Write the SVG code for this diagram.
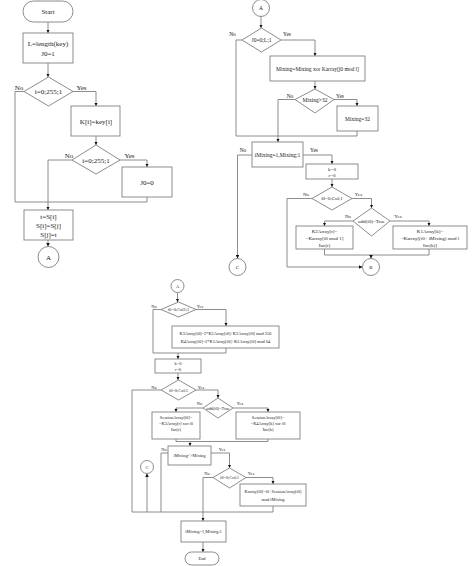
<svg xmlns="http://www.w3.org/2000/svg" width="474" height="566" viewBox="0 0 474 566">
<defs>
<marker id="ah" viewBox="0 0 6 6" refX="6" refY="3" markerWidth="3.5" markerHeight="3.5" markerUnits="userSpaceOnUse" orient="auto"><path d="M0,0 L6,3 L0,6 z" fill="#111"/></marker>
<style>
.s{fill:#fff;stroke:#808080;stroke-width:0.9}
.c{fill:none;stroke:#808080;stroke-width:0.9}
.ca{fill:none;stroke:#808080;stroke-width:0.9;marker-end:url(#ah)}
text{font-family:"Liberation Serif","Times New Roman",serif;fill:#222;text-anchor:middle}
.t7{font-size:7px}
.t55{font-size:5.5px}
.t5{font-size:5px}
.t45{font-size:4.4px}
</style>
</defs>
<rect width="474" height="566" fill="#fff"/>

<g id="connectors">
<!-- top-left -->
<path class="ca" d="M48,22 V33"/>
<path class="ca" d="M48,63 V77"/>
<path class="c" d="M147,197 V202 H15 V91.5 H24"/>
<path class="ca" d="M73,91.5 H96 V106"/>
<path class="ca" d="M96,136 V145"/>
<path class="ca" d="M72,160 H48 V210"/>
<path class="ca" d="M120,160 H147 V167"/>
<path class="ca" d="M48,240 V246.5"/>
<!-- top-right -->
<path class="ca" d="M261,16.5 V28"/>
<path class="ca" d="M281,40 H315 V56"/>
<path class="c" d="M357,131 V136 H236 V40 H242"/>
<path class="ca" d="M315,81 V89"/>
<path class="ca" d="M295,99.5 H278 V142"/>
<path class="ca" d="M334,99.5 H357 V106"/>
<path class="ca" d="M252,155 H237.5 V258.5"/>
<path class="ca" d="M303,155 H332 V164"/>
<path class="ca" d="M332,179 V187"/>
<path class="ca" d="M312,198.5 H287 V267 H362.5"/>
<path class="ca" d="M352,198.5 H371.5 V208"/>
<path class="ca" d="M353,221 H324.5 V226"/>
<path class="ca" d="M390,221 H429 V226"/>
<path class="c" d="M324.5,249 V255 H429 V249"/>
<path class="ca" d="M371,255 V258.5"/>
<!-- bottom -->
<path class="ca" d="M177.5,292.5 V302"/>
<path class="c" d="M226,348 V353 H153 V309.5 H161"/>
<path class="ca" d="M196,309.5 H226 V326"/>
<path class="ca" d="M178,353 V359"/>
<path class="ca" d="M178,373 V380"/>
<path class="c" d="M161,390 H132 V512 H273 V506"/>
<path class="ca" d="M196,390 H218 V398"/>
<path class="ca" d="M203,408 H176 V412"/>
<path class="ca" d="M233,408 H268 V412"/>
<path class="c" d="M176,439 V441.5 H268 V439"/>
<path class="ca" d="M190,441.5 V446"/>
<path class="c" d="M168,453 H161 V512"/>
<path class="ca" d="M211,453 H229.5 V468"/>
<path class="ca" d="M213,477.5 H203 V521"/>
<path class="ca" d="M246,477.5 H273 V484"/>
<path class="ca" d="M147,512 V473.5"/>
<path class="ca" d="M203,542 V552"/>
</g>

<g id="labels">
<text class="t7" x="19" y="89.5">No</text>
<text class="t7" x="81.5" y="89.5">Yes</text>
<text class="t7" x="69" y="158">No</text>
<text class="t7" x="129.5" y="158">Yes</text>
<text class="t55" x="232.5" y="36">No</text>
<text class="t55" x="287" y="36">Yes</text>
<text class="t55" x="290" y="98">No</text>
<text class="t55" x="340" y="98">Yes</text>
<text class="t55" x="243" y="152">No</text>
<text class="t55" x="314" y="152">Yes</text>
<text class="t5" x="306" y="196">No</text>
<text class="t5" x="358.5" y="196">Yes</text>
<text class="t5" x="348" y="218">No</text>
<text class="t5" x="398" y="218">Yes</text>
<text class="t45" x="154" y="308">No</text>
<text class="t45" x="200" y="308">Yes</text>
<text class="t45" x="154" y="389">No</text>
<text class="t45" x="201" y="389">Yes</text>
<text class="t45" x="199.5" y="405">No</text>
<text class="t45" x="240" y="405">Yes</text>
<text class="t45" x="164" y="451">No</text>
<text class="t45" x="222" y="451">Yes</text>
<text class="t45" x="207" y="475">No</text>
<text class="t45" x="251" y="475">Yes</text>
</g>

<!-- top-left flowchart -->
<g id="start"><rect class="s" x="23" y="1" width="50" height="21" rx="10.5"/><text class="t7" x="48" y="14">Start</text></g>
<g id="init"><rect class="s" x="23" y="33" width="50" height="30"/><text class="t7" x="48" y="46">L=length(key)</text><text class="t7" x="48" y="55.5">J0=1</text></g>
<g id="loop1"><polygon class="s" points="48.5,77 73,91.5 48.5,106 24,91.5"/><text class="t7" x="48.5" y="94">i=0;255;1</text></g>
<g id="kassign"><rect class="s" x="71" y="106" width="49" height="30"/><text class="t7" x="96" y="123.5">K[i]=key[i]</text></g>
<g id="loop2"><polygon class="s" points="96,145 120,160 96,174 72,160"/><text class="t7" x="96" y="162.5">i=0;255;1</text></g>
<g id="j0zero"><rect class="s" x="122" y="167" width="50" height="30"/><text class="t7" x="147" y="184.5">J0=0</text></g>
<g id="swap"><rect class="s" x="24" y="210" width="49" height="30"/><text class="t7" x="48.5" y="218.5">t=S[i]</text><text class="t7" x="48.5" y="227.5">S[i]=S[j]</text><text class="t7" x="48.5" y="236.5">S[j]=t</text></g>
<g id="connA1"><circle class="s" cx="48.5" cy="257" r="10.5"/><text class="t7" x="48.5" y="259.5">A</text></g>

<!-- top-right flowchart -->
<g id="connA2"><circle class="s" cx="261" cy="8" r="8.5"/><text class="t55" x="261" y="10">A</text></g>
<g id="loopJ0"><polygon class="s" points="261.5,28 281,40 261.5,52 242,40"/><text class="t55" x="261.5" y="42">J0=0;L;1</text></g>
<g id="mixxor"><rect class="s" x="270" y="56" width="95" height="25"/><text class="t55" x="317.5" y="70.5">Mixing=Mixing xor Karray[j0 mod l]</text></g>
<g id="mixgt"><polygon class="s" points="315,89 334,99.5 315,113 295,99.5"/><text class="t55" x="315" y="101.5">Mixing&gt;32</text></g>
<g id="mix32"><rect class="s" x="337" y="106" width="41" height="25"/><text class="t55" x="357.5" y="120.5">Mixing=32</text></g>
<g id="loopImix"><rect class="s" x="252" y="142" width="51" height="25"/><text class="t55" x="277.5" y="156.5">iMixing=1,Mixing;1</text></g>
<g id="kr0a"><rect class="s" x="306" y="164" width="52" height="15"/><text class="t5" x="332" y="170.5">k=0</text><text class="t5" x="332" y="177">r=0</text></g>
<g id="loopI0a"><polygon class="s" points="332,187 352,198.5 332,210 312,198.5"/><text class="t5" x="332" y="200.3">i0=0;Col;1</text></g>
<g id="odda"><polygon class="s" points="371.5,208 390,221 371.5,236 353,221"/><text class="t5" x="371.5" y="223">odd(i0)=True</text></g>
<g id="k2arr"><rect class="s" x="296" y="226" width="57" height="23"/><text class="t5" x="324.5" y="233">K2Array[r]=</text><text class="t5" x="324.5" y="240">=Karray[i0 mod 1]</text><text class="t5" x="324.5" y="247">Inc(r)</text></g>
<g id="k1arr"><rect class="s" x="393" y="226" width="74" height="23"/><text class="t5" x="430" y="233">K1Array[k]=</text><text class="t5" x="430" y="240">=Karray[(i0+ iMixing) mod l</text><text class="t5" x="430" y="247">Inc(k)]</text></g>
<g id="connB"><circle class="s" cx="371" cy="267" r="8.5"/><text class="t5" x="371" y="269">B</text></g>
<g id="connC1"><circle class="s" cx="237.5" cy="267" r="8.5"/><text class="t5" x="237.5" y="269">C</text></g>

<!-- bottom flowchart -->
<g id="connA3"><circle class="s" cx="177.5" cy="286" r="6.5"/><text class="t45" x="177.5" y="287.6">A</text></g>
<g id="loopCol2"><polygon class="s" points="178.5,302 196,309.5 178.5,317 161,309.5"/><text class="t45" x="178.5" y="311">i0=0;Col2;1</text></g>
<g id="k3k4"><rect class="s" x="172" y="326" width="107" height="22"/><text class="t45" x="225.5" y="335">K3Array[i0]=2*K1Array[i0]+K2Array[i0] mod 256</text><text class="t45" x="225.5" y="343">K4Array[i0]=2*K1Array[i0]+K2Array[i0] mod 64</text></g>
<g id="kr0b"><rect class="s" x="155" y="359" width="46" height="14"/><text class="t45" x="178" y="365">k=0</text><text class="t45" x="178" y="371.3">r=0</text></g>
<g id="loopI0b"><polygon class="s" points="178.5,380 196,390 178.5,400 161,390"/><text class="t45" x="178.5" y="391.5">i0=0;Col;1</text></g>
<g id="oddb"><polygon class="s" points="218,398 233,408 218,418 203,408"/><text class="t45" x="218" y="409.5">odd(i0)=True</text></g>
<g id="sessL"><rect class="s" x="152" y="412" width="48" height="27"/><text class="t45" x="176" y="419">SessionArray[i0]=</text><text class="t45" x="176" y="425">=K3Array[r] xor i0</text><text class="t45" x="176" y="431">Inc(r)</text></g>
<g id="sessR"><rect class="s" x="236" y="412" width="64" height="27"/><text class="t45" x="268" y="419">SessionArray[i0]=</text><text class="t45" x="268" y="425">=K4Array[k] xor i0</text><text class="t45" x="268" y="431">Inc(k)</text></g>
<g id="imixne"><rect class="s" x="168" y="446" width="43" height="19"/><text class="t45" x="189.5" y="457">iMixing&lt;&gt;Mixing</text></g>
<g id="connC2"><circle class="s" cx="147" cy="467" r="6.5"/><text class="t45" x="147" y="468.6">C</text></g>
<g id="loopI0c"><polygon class="s" points="229.5,468 246,477.5 229.5,488 213,477.5"/><text class="t45" x="229.5" y="479">i0=0;Col;1</text></g>
<g id="karrayset"><rect class="s" x="240" y="484" width="66" height="22"/><text class="t45" x="273" y="493">Karray[i0]=i0+SessionArray[i0]</text><text class="t45" x="273" y="500.5">mod iMixing</text></g>
<g id="loopImix2"><rect class="s" x="181" y="521" width="45" height="21"/><text class="t45" x="203.5" y="533">iMixing=1,Mixing;1</text></g>
<g id="end"><rect class="s" x="185" y="552" width="34" height="13" rx="6.5"/><text class="t45" x="202" y="560">End</text></g>
</svg>
